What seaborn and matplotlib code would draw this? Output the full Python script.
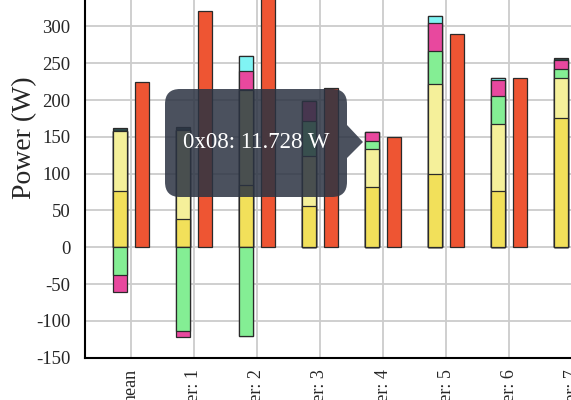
import matplotlib
matplotlib.use("Agg")
import matplotlib.pyplot as plt
import matplotlib.transforms as mtransforms
from matplotlib.patches import FancyBboxPatch, Polygon
import seaborn as sns
import pandas as pd

# groups on the x axis
groups = ["mean", "Server: 1", "Server: 2", "Server: 3",
          "Server: 4", "Server: 5", "Server: 6", "Server: 7"]

# positive stack components (bottom -> top)
comp_yellow = [76, 39, 84, 56.5, 82, 100, 76, 175]
comp_light = [82.5, 120, 130, 68, 51.5, 121.5, 92, 55.5]
comp_green = [0, 0, 0, 47.5, 11.5, 45, 37, 12]
comp_pink = [0, 0, 25.5, 27, 11.5, 38, 22, 11.5]
comp_cyan = [0, 0, 20.5, 0, 0, 9.5, 3.5, 0]
comp_dark = [4, 4, 0, 0, 0, 0, 0, 2.5]

# negative stack components (from 0 downwards)
neg_green = [-38, -114, -120, 0, 0, 0, 0, 0]
neg_pink = [-23, -8, 0, 0, 0, 0, 0, 0]

# measured total (red bar)
measured = [224, 321.5, 345, 217, 150, 290, 230.5, 258]

tick_values = list(range(-150, 301, 50))

RED = "#ee5533"
EDGE = "#2a2a2a"
W = 0.683
GAP = 0.37


def draw(ax, heights, color, kind="stack"):
    df = pd.DataFrame({"group": groups, "kind": kind, "value": heights})
    df = df[df["value"] != 0]
    pal = {"stack": color, "total": RED}
    sns.barplot(data=df, x="group", y="value", hue="kind",
                hue_order=["stack", "total"], order=groups, palette=pal,
                dodge=True, width=W, gap=GAP, errorbar=None,
                edgecolor=EDGE, linewidth=0.9, saturation=1,
                legend=False, ax=ax)


sns.set_style("white")
plt.rcParams['font.family'] = ['Liberation Serif', 'DejaVu Serif']
plt.rcParams['axes.unicode_minus'] = False

fig = plt.figure(figsize=(5.71, 4.0), dpi=100)
ax = fig.add_axes([85 / 571, 42.3 / 400, 533 / 571, 375.4 / 400])

layers = [comp_yellow, comp_light, comp_green, comp_pink, comp_cyan, comp_dark]
colors = ["#f2e05a", "#f5f09a", "#84ee94", "#e8489e", "#80f4f4", "#2f4f4f"]

# draw cumulative stacks from the top layer down so lower layers overlap
cums = []
run = [0] * len(groups)
for lay in layers:
    run = [a + b for a, b in zip(run, lay)]
    cums.append(run)
for cum, col in reversed(list(zip(cums, colors))):
    draw(ax, cum, col)

neg_total = [a + b for a, b in zip(neg_green, neg_pink)]
draw(ax, neg_total, "#e8489e")
draw(ax, neg_green, "#84ee94")

draw(ax, measured, RED, kind="total")

ax.set_xlim(-0.73, 7.73)
ax.set_ylim(-150, 360)
ax.set_yticks(tick_values)
ax.set_yticklabels([str(v) for v in tick_values], fontsize=13.5)
ax.set_xticks(range(len(groups)))
ax.set_xticklabels(groups, rotation=90, fontsize=13, va="top", ha="center")
ax.tick_params(axis="y", direction="out", length=7, width=1.5,
               color="black", pad=3.5)
ax.tick_params(axis="x", direction="out", length=6, width=1.5,
               color="black", pad=2)

ax.grid(True, color="#cccccc", linewidth=1.3)
ax.set_axisbelow(True)
for s in ["top", "right"]:
    ax.spines[s].set_visible(False)
for s in ["left", "bottom"]:
    ax.spines[s].set_linewidth(1.5)
    ax.spines[s].set_color("black")

ax.set_xlabel("")
ax.set_ylabel("Power (W)", fontsize=20)
ax.yaxis.set_label_coords(-0.09, 0.585)

# tooltip overlay
ident = mtransforms.IdentityTransform()
box = FancyBboxPatch((165, 203), 182, 108,
                     boxstyle="round,pad=0,rounding_size=15",
                     transform=ident, facecolor="#2b3342", alpha=0.85,
                     edgecolor="none", zorder=10)
fig.patches.append(box)
arrow = Polygon([(347, 275), (363, 258), (347, 242)], closed=True,
                transform=ident, facecolor="#2b3342", alpha=0.85,
                edgecolor="none", zorder=10)
fig.patches.append(arrow)
fig.text(256 / 571, 257 / 400, "0x08: 11.728 W", color="white",
         fontsize=16.5, ha="center", va="center", zorder=11)

fig.savefig("out.png", dpi=100)
